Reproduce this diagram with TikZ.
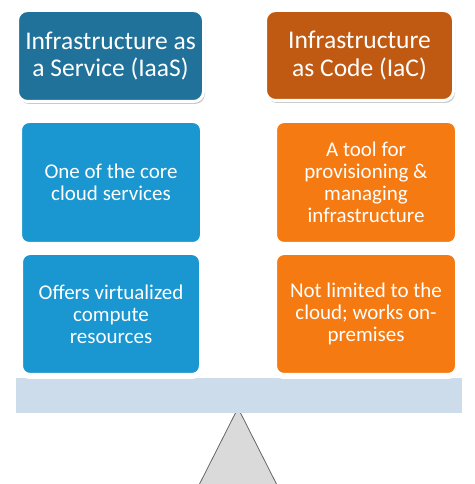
\documentclass[tikz,border=0pt]{standalone}
\usepackage{fontspec}
\setmainfont{Carlito}
\usetikzlibrary{shadows}
\definecolor{hdrblue}{HTML}{21729A}
\definecolor{hdrorange}{HTML}{C05A12}
\definecolor{boxblue}{HTML}{1A96D0}
\definecolor{boxorange}{HTML}{F57A12}
\definecolor{beamblue}{HTML}{CCDCEB}
\definecolor{fulcrum}{HTML}{DADADA}
\tikzset{
  x=1pt, y=1pt,
  card/.style={rounded corners=10pt, draw=white, align=center, text=white,
    drop shadow={shadow xshift=1.5pt, shadow yshift=-2.5pt, opacity=0.35, fill=black!60}},
  hdrcard/.style={card, line width=3pt, font=\fontsize{25.5}{27.5}\selectfont},
  infocard/.style={card, line width=6pt, font=\fontsize{21}{22}\selectfont},
}
\begin{document}
\begin{tikzpicture}
\useasboundingbox (0,0) rectangle (474,484);
\begin{scope}
\clip (0,0) rectangle (474,484);
\draw[fill=fulcrum, draw=black!60, line width=0.8pt] (238,76) -- (197,-5) -- (279,-5) -- cycle;
\end{scope}
\node[fill=beamblue, minimum width=446, minimum height=35, inner sep=0] (beam) at (239,88.5) {};
% headers
\node[hdrcard, fill=hdrblue, minimum width=186, minimum height=91] (ha) at (110.5,428) {Infrastructure as\\a Service (IaaS)};
\node[hdrcard, fill=hdrorange, minimum width=188, minimum height=90] (hb) at (359.5,428.5) {Infrastructure\\as Code (IaC)};
% middle
\node[infocard, fill=boxblue, minimum width=184, minimum height=125] (ma) at (111,301.5) {One of the core\\cloud services};
\node[infocard, fill=boxorange, minimum width=184, minimum height=125] (mb) at (366,301.5) {A tool for\\provisioning \&\\managing\\infrastructure};
% bottom
\node[infocard, fill=boxblue, minimum width=182, minimum height=124] (ba) at (111,170) {Offers virtualized\\compute\\resources};
\node[infocard, fill=boxorange, minimum width=184, minimum height=124] (bb) at (366,170) {Not limited to the\\cloud; works on-\\premises};
\end{tikzpicture}
\end{document}
